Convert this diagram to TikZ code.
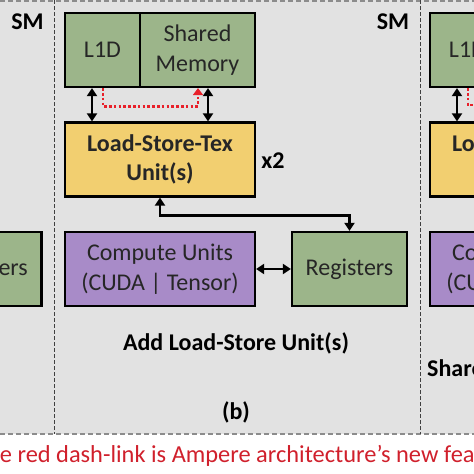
\documentclass[tikz,border=0pt]{standalone}
\usepackage{fontspec}
\setmainfont{Carlito}
\usetikzlibrary{arrows.meta}
\definecolor{bgc}{HTML}{E2E2E2}
\definecolor{grn}{HTML}{9CB58A}
\definecolor{ylw}{HTML}{F2CF70}
\definecolor{prp}{HTML}{A88BC8}
\definecolor{redt}{HTML}{D0202C}
\definecolor{redl}{HTML}{E8202A}
\definecolor{txt}{HTML}{262626}
\begin{document}
\begin{tikzpicture}[x=1pt,y=-1pt,
  fnt/.style={font=\fontsize{24}{29.5}\selectfont},
  box/.style={draw=black, line width=2.2pt, text=txt, fnt, align=center, inner sep=0pt},
  gbox/.style={box, fill=grn},
  ybox/.style={box, fill=ylw, font=\fontsize{24}{29.5}\selectfont\bfseries},
  pbox/.style={box, fill=prp},
  lbl/.style={fnt, font=\fontsize{24}{29.5}\selectfont\bfseries, text=black, inner sep=0pt},
  arr/.style={line width=2.6pt, {Triangle[length=8pt,width=10pt]}-{Triangle[length=8pt,width=10pt]}},
  reddot/.style={redl, line width=2.8pt, dash pattern=on 2.6pt off 2.2pt, -{Triangle[length=7pt,width=10pt]}},
  sep/.style={draw=black!75, line width=1pt, dash pattern=on 4pt off 2pt},
  brd/.style={draw=black!45, line width=1.8pt, dash pattern=on 5pt off 3pt}]
\useasboundingbox (0,0) rectangle (474,474);
\clip (0,0) rectangle (474,474);
\fill[bgc] (0,0) rectangle (474,434);
\draw[brd] (0,1.2) -- (474,1.2);
\draw[brd] (0,434) -- (474,434);
\draw[sep] (54,0) -- (54,434);
\draw[sep] (420,0) -- (420,434);

% middle panel
\node[gbox, minimum width=75pt, minimum height=74pt] (l1d) at (102.5,50) {L1D};
\node[gbox, minimum width=115pt, minimum height=74pt] (smem) at (197.5,50) {Shared\\Memory};
\node[ybox, minimum width=190pt, minimum height=74pt] (lst) at (160,159.5) {Load-Store-Tex\\Unit(s)};
\node[pbox, minimum width=190pt, minimum height=74pt] (cu) at (160,269) {Compute Units\\(CUDA | Tensor)};
\node[gbox, minimum width=115pt, minimum height=74pt] (reg) at (349.5,269) {Registers};
\node[lbl] (x2) at (273,161) {x2};
\node[lbl] (sm) at (393,22) {SM};
\node[lbl] (add) at (236,343) {Add Load-Store Unit(s)};
\node[lbl] (b) at (236,412) {(b)};

\draw[arr] ([xshift=-10.5pt]l1d.south) -- ([xshift=-10.5pt]l1d.south |- lst.north);
\draw[arr] ([xshift=10.5pt]smem.south) -- ([xshift=10.5pt]smem.south |- lst.north);
\draw[reddot] ([xshift=0.5pt]l1d.south) -- ++(0,18) -| ([xshift=0.5pt]smem.south);
\draw[arr] (lst.south) -- ++(0,18) -| (reg.north);
\draw[arr] (cu.east) -- (reg.west);

% left panel (partly visible)
\node[lbl] (smA) at (27.5,22) {SM};
\node[gbox, minimum width=115pt, minimum height=74pt] (regA) at (-16,269) {Registers};

% right panel (partly visible)
\node[gbox, minimum width=75pt, minimum height=74pt] (l1dC) at (467.5,50) {L1D};
\node[ybox, minimum width=190pt, minimum height=74pt] (lstC) at (525,159.5) {Load-Store-Tex\\Unit(s)};
\node[pbox, minimum width=190pt, minimum height=74pt] (cuC) at (525,269) {Compute Units\\(CUDA | Tensor)};
\node[lbl, anchor=base west] (shC) at (427,376.5) {Shared};
\coordinate (rdC) at (520,105);
\draw[arr] ([xshift=-10.5pt]l1dC.south) -- ([xshift=-10.5pt]l1dC.south |- lstC.north);
\draw[redl, line width=2.8pt, dash pattern=on 2.6pt off 2.2pt] ([xshift=0.5pt]l1dC.south) |- (rdC);

% caption
\node[anchor=base west, inner sep=0pt, text=redt, font=\fontsize{24.4}{29.5}\selectfont] (note) at (-25,462.5) {The red dash-link is Ampere architecture’s new feature};
\end{tikzpicture}
\end{document}
